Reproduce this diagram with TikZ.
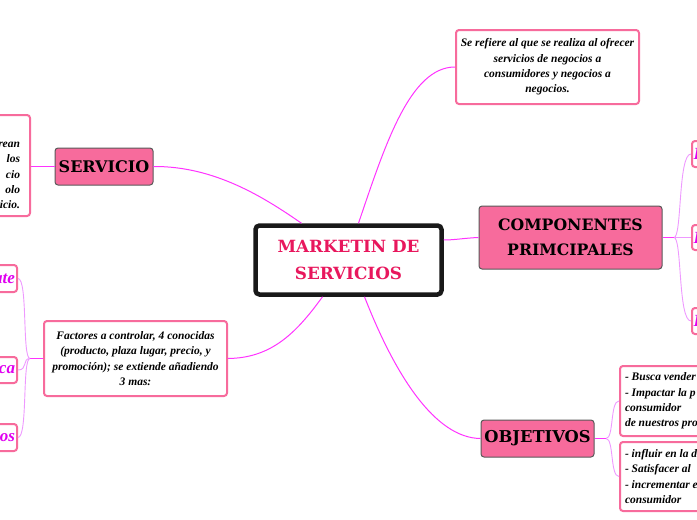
\documentclass[tikz,border=0pt]{standalone}
\usepackage{fontspec}
\setmainfont{Liberation Serif}
\newfontfamily\headfont{DejaVu Serif}
\definecolor{rosa}{HTML}{F76B9C}
\definecolor{rama}{HTML}{FF33FF}
\definecolor{ramita}{HTML}{EE99FF}
\definecolor{titulo}{HTML}{E8175D}
\definecolor{morado}{HTML}{E000F0}
\tikzset{
	tema/.style={draw=black!65, line width=1pt, fill=rosa, rounded corners=3pt, align=center, inner sep=0pt, font=\headfont\bfseries},
	nota/.style={draw=rosa, line width=2pt, fill=white, rounded corners=3pt, align=center, inner sep=0pt, font=\bfseries\itshape\fontsize{11.5}{15.4}\selectfont},
	hoja/.style={nota, font=\bfseries\itshape\fontsize{17}{20}\selectfont, text=morado},
	rama1/.style={draw=rama, line width=1pt},
	rama2/.style={draw=ramita, line width=.9pt}
}
\begin{document}
\begin{tikzpicture}[x=1pt, y=-1pt]
	\useasboundingbox (0,0) rectangle (697,520);
	% centro
	\node[draw=black!90, line width=4.5pt, rounded corners=4pt, fill=white, minimum width=186pt, minimum height=69pt, align=center, text=titulo, font=\headfont\bfseries\fontsize{16.8}{27}\selectfont] (centro) at (348.5,260) {MARKETIN DE\\SERVICIOS};
	% temas
	\node[tema, minimum width=98pt, minimum height=37pt, font=\headfont\bfseries\fontsize{16}{20}\selectfont] (servicio) at (104,166.5) {SERVICIO};
	\node[tema, minimum width=183pt, minimum height=63pt, font=\headfont\bfseries\fontsize{15.7}{25}\selectfont] (componentes) at (570.5,237.5) {COMPONENTES\\PRIMCIPALES};
	\node[tema, minimum width=113pt, minimum height=37pt, font=\headfont\bfseries\fontsize{16.3}{20}\selectfont] (objetivos) at (537.5,438.5) {OBJETIVOS};
	% notas
	\node[nota, minimum width=183pt, minimum height=74pt] (refiere) at (547.5,67) {Se refiere al que se realiza al ofrecer\\servicios de negocios a\\consumidores y negocios a\\negocios.};
	\node[nota, minimum width=183pt, minimum height=75pt] (factores) at (135.5,358.5) {Factores a controlar, 4 conocidas\\(producto, plaza lugar, precio, y\\promoción); se extiende añadiendo\\3 mas:};
	% cortadas por el borde
	\node[nota, minimum width=60pt, minimum height=101pt, align=flush right, text width=40pt] (crean) at (0,165.5) {\mbox{}\\[10pt]rean\\los\\cio\\olo\\icio.};
	\node[hoja, minimum width=60pt, minimum height=27pt, align=flush right, text width=56pt] (ate) at (-13,278.5) {ate};
	\node[hoja, minimum width=60pt, minimum height=26pt, align=flush right, text width=56pt] (ca) at (-13,370) {ca};
	\node[hoja, minimum width=60pt, minimum height=27pt, align=flush right, text width=56pt] (os) at (-13,437.5) {os};
	\node[hoja, minimum width=60pt, minimum height=26pt, align=flush left, text width=57pt] (hojaA) at (722,154) {P};
	\node[hoja, minimum width=60pt, minimum height=25pt, align=flush left, text width=57pt] (hojaB) at (722,237.5) {P};
	\node[hoja, minimum width=60pt, minimum height=26pt, align=flush left, text width=57pt] (hojaC) at (722,321) {P};
	\node[nota, minimum width=160pt, minimum height=70pt, align=flush left, text width=150pt] (busca) at (700,401) {- Busca vender\\- Impactar la p\\consumidor\\de nuestros pro};
	\node[nota, minimum width=160pt, minimum height=69pt, align=flush left, text width=150pt] (influir) at (700,476.5) {- influir en la d\\- Satisfacer al\\- incrementar e\\consumidor};
	% ramas
	\draw[rama1] ([xshift=-47pt]centro.north) .. controls (265,198) and (215,166) .. (servicio.east);
	\draw[rama1] ([xshift=10pt]centro.north) .. controls (385,145) and (410,67) .. (refiere.west);
	\draw[rama1] ([yshift=20pt]centro.east) .. controls (455,240) and (465,238) .. (componentes.west);
	\draw[rama1] ([xshift=16pt]centro.south) .. controls (395,375) and (435,438) .. (objetivos.west);
	\draw[rama1] (factores.east) .. controls (270,358) and (295,335) .. ([xshift=-26pt]centro.south);
	\draw[rama1] (servicio.west) -- (crean.east |- servicio.west);
	% ramitas
	\coordinate (nudoF) at (30,358.5);
	\coordinate (nudoC) at (674,237.5);
	\coordinate (nudoO) at (606,438.5);
	\draw[rama1] (factores.west) -- (nudoF);
	\draw[rama1] (componentes.east) -- (nudoC);
	\draw[rama1] (objetivos.east) -- (nudoO);
	\foreach \hijo/\alto in {ate/279,ca/370,os/437}
		\draw[rama2] (nudoF) .. controls (22,358.5) and (28,\alto) .. (\hijo.east);
	\foreach \hijo/\alto in {hojaA/154,hojaB/237.5,hojaC/321}
		\draw[rama2] (nudoC) .. controls (682,237.5) and (678,\alto) .. (\hijo.west);
	\foreach \hijo/\alto in {busca/401,influir/476.5}
		\draw[rama2] (nudoO) .. controls (614,438.5) and (610,\alto) .. (\hijo.west);
\end{tikzpicture}
\end{document}
